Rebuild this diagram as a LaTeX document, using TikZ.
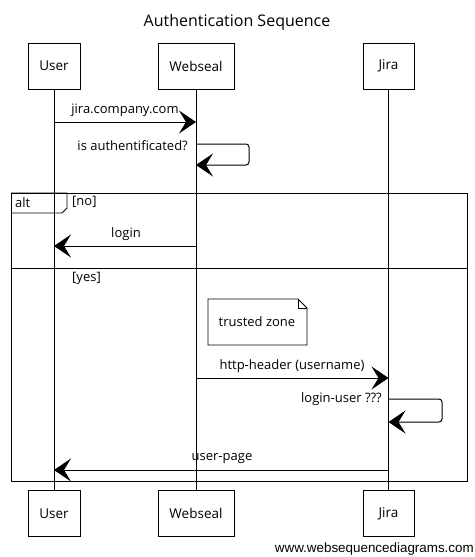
\documentclass[tikz,border=0pt]{standalone}
\usepackage{fontspec}
\setmainfont{Open Sans}
\newfontfamily\wmfont{Liberation Sans}
\usetikzlibrary{arrows.meta,calc}
\tikzset{
  x=1pt, y=-1pt,
  actor/.style={draw, line width=0.9pt, minimum width=#1, minimum height=46pt, inner sep=0pt, font=\fontsize{13.5}{15}\selectfont},
  actor/.default=52pt,
  life/.style={line width=0.8pt},
  msg/.style={line width=1pt, -{Stealth[length=17pt,width=23pt,inset=7pt]}},
  lbl/.style={font=\fontsize{13}{15}\selectfont, inner sep=1pt},
  frame/.style={line width=0.9pt},
}
\begin{document}
\begin{tikzpicture}
\useasboundingbox (0,0) rectangle (474,557);
\node[font=\fontsize{16}{18}\selectfont] (title) at (237,22) {Authentication Sequence};

% actors
\node[actor=52pt] (utop) at (54,66) {User};
\node[actor=76pt] (wtop) at (196,66) {Webseal};
\node[actor=51pt] (jtop) at (388.5,66) {Jira};
\node[actor=52pt] (ubot) at (54,513.5) {User};
\node[actor=76pt] (wbot) at (196,513.5) {Webseal};
\node[actor=51pt] (jbot) at (388.5,513.5) {Jira};

% lifelines
\draw[life] (utop.south) -- (ubot.north);
\draw[life] (wtop.south) -- (wbot.north);
\draw[life] (jtop.south) -- (jbot.north);

% alt frame
\coordinate (fa) at (11,193);
\coordinate (fb) at (467,481);
\draw[frame] (fa) rectangle (fb);
\draw[frame] (11,268) -- (467,268);
\draw[frame] (fa) -- (67,193) -- (67,208) -- (62,213) -- (11,213);
\node[lbl, anchor=west] (alt) at (14,203) {alt};
\node[lbl, anchor=west] (no) at (71,202) {[no]};
\node[lbl, anchor=west] (yes) at (71,278) {[yes]};

% messages
\coordinate (m1a) at (utop.south |- 0,122);
\coordinate (m1b) at (wtop.south |- 0,122);
\draw[msg] (m1a) -- (m1b);
\node[lbl] (l1) at (125,110) {jira.company.com};

\coordinate (s1a) at (wtop.south |- 0,144);
\coordinate (s1b) at (wtop.south |- 0,165);
\draw[msg, rounded corners=3pt] (s1a) -- (249,144) -- (249,165) -- (s1b);
\node[lbl, anchor=east] (l2) at (189,146) {is authentificated?};

\coordinate (m2a) at (wtop.south |- 0,246);
\coordinate (m2b) at (utop.south |- 0,246);
\draw[msg] (m2a) -- (m2b);
\node[lbl] (l3) at (126,234) {login};

% note
\draw[frame] (208,299) -- (298,299) -- (307,308) -- (307,345) -- (208,345) -- cycle;
\draw[frame] (298,299) -- (298,308) -- (307,308);
\node[lbl] (note) at (257,322) {trusted zone};

\coordinate (m3a) at (wtop.south |- 0,378);
\coordinate (m3b) at (jtop.south |- 0,378);
\draw[msg] (m3a) -- (m3b);
\node[lbl] (l4) at (292,366) {http-header (username)};

\coordinate (s2a) at (jtop.south |- 0,399);
\coordinate (s2b) at (jtop.south |- 0,422);
\draw[msg, rounded corners=3pt] (s2a) -- (442,399) -- (442,422) -- (s2b);
\node[lbl, anchor=east] (l5) at (383,399) {login-user ???};

\coordinate (m4a) at (jtop.south |- 0,470);
\coordinate (m4b) at (utop.south |- 0,470);
\draw[msg] (m4a) -- (m4b);
\node[lbl] (l6) at (222,459) {user-page};

\node[font=\wmfont\fontsize{13.4}{15}\selectfont, anchor=east, inner sep=0pt] (wm) at (474,549) {www.websequencediagrams.com};
\end{tikzpicture}
\end{document}
